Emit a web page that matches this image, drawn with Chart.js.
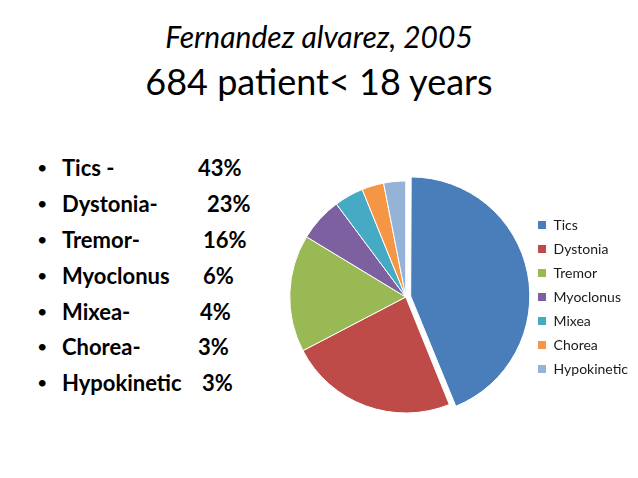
<!DOCTYPE html>
<html>
<head>
<meta charset="utf-8">
<script src="https://cdn.jsdelivr.net/npm/chart.js@4/dist/chart.umd.min.js"></script>
<style>
  html, body { margin: 0; padding: 0; background: #fff; }
  body { width: 638px; height: 478px; position: relative; overflow: hidden; font-family: Lato, "Open Sans", sans-serif; }
  .t1 { position: absolute; left: 0; width: 638px; top: 18px; text-align: center; font-size: 30px; font-style: italic; color: #000; }
  .t2 { position: absolute; left: 0; width: 638px; top: 59px; text-align: center; font-size: 36px; color: #000; }
  ul { position: absolute; left: 36px; top: 150px; margin: 0; padding: 0; list-style: none; }
  li { position: relative; height: 35.9px; line-height: 35.9px; font-size: 22px; font-weight: bold; color: #000; padding-left: 26px; }
  li:before { content: "\2022"; position: absolute; left: 1px; top: 0; font-size: 18px; font-weight: normal; }
  li span.p { position: absolute; left: 162px; }
  #wrap { position: absolute; left: 276px; top: 166px; width: 362px; height: 260px; }
</style>
</head>
<body>
<div class="t1">Fernandez alvarez, 2005</div>
<div class="t2">684 patient&lt; 18 years</div>
<ul id="list"></ul>
<div id="wrap"><canvas id="c"></canvas></div>
<script>
// slide data
var categories = ["Tics", "Dystonia", "Tremor", "Myoclonus", "Mixea", "Chorea", "Hypokinetic"];
var bulletLabels = ["Tics -", "Dystonia-", "Tremor-", "Myoclonus", "Mixea-", "Chorea-", "Hypokinetic"];
var percents = [43, 23, 16, 6, 4, 3, 3];
var colors = ["#4a7ebb", "#be4b48", "#98b954", "#7d60a0", "#46aac5", "#f59645", "#95b3d7"];
var offsets = [20, 0, 0, 0, 0, 0, 0];
var pctShift = [0, 9, 5, 5, 2, 0, 4];

var list = document.getElementById("list");
for (var i = 0; i < bulletLabels.length; i++) {
    var li = document.createElement("li");
    li.textContent = bulletLabels[i];
    var sp = document.createElement("span");
    sp.className = "p";
    sp.style.left = (162 + pctShift[i]) + "px";
    sp.textContent = percents[i] + "%";
    li.appendChild(sp);
    list.appendChild(li);
}

var ctx = document.getElementById("c").getContext("2d");
var chart = new Chart(ctx, {
    type: 'pie',
    data: {
        labels: categories,
        datasets: [{
            data: percents,
            backgroundColor: colors,
            borderColor: "#fff",
            borderWidth: 1,
            offset: offsets
        }]
    },
    options: {
        responsive: true,
        maintainAspectRatio: false,
        animation: false,
        radius: 116,
        layout: { padding: { left: 8, top: 9, bottom: 7, right: 0 } },
        plugins: {
            tooltip: { enabled: false },
            legend: {
                position: 'right',
                labels: {
                    boxWidth: 9,
                    boxHeight: 9,
                    padding: 10,
                    color: "#1a1a1a",
                    font: { family: "Lato, 'Open Sans', sans-serif", size: 14 }
                }
            }
        }
    }
});
</script>
</body>
</html>
